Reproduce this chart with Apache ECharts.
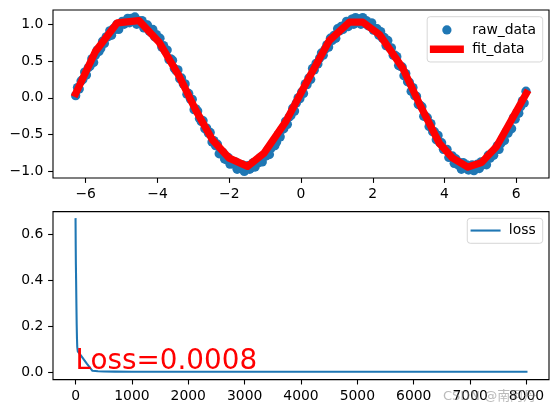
<!DOCTYPE html>
<html><head><meta charset="utf-8">
<script src="https://cdn.jsdelivr.net/npm/echarts@6/dist/echarts.min.js"></script>
<style>html,body{margin:0;padding:0;background:#fff}#c{width:559px;height:413px}</style>
</head><body><div id="c"></div>
<script>
// ---- data ----
const rawX = [
-6.28,-6.23,-6.18,-6.13,-6.08,-6.03,
-5.98,-5.93,-5.88,-5.83,-5.78,-5.73,-5.68,-5.63,-5.58,-5.53,-5.48,-5.43,-5.38,-5.33,-5.28,-5.23,-5.18,-5.13,-5.08,-5.03,
-4.98,-4.93,-4.88,-4.83,-4.78,-4.73,-4.68,-4.63,-4.58,-4.53,-4.48,-4.43,-4.38,-4.33,-4.28,-4.23,-4.18,-4.13,-4.08,-4.03,
-3.98,-3.93,-3.88,-3.83,-3.78,-3.73,-3.68,-3.63,-3.58,-3.53,-3.48,-3.43,-3.38,-3.33,-3.28,-3.23,-3.18,-3.13,-3.08,-3.03,
-2.98,-2.93,-2.88,-2.83,-2.78,-2.73,-2.68,-2.63,-2.58,-2.53,-2.48,-2.43,-2.38,-2.33,-2.28,-2.23,-2.18,-2.13,-2.08,-2.03,
-1.98,-1.93,-1.88,-1.83,-1.78,-1.73,-1.68,-1.63,-1.58,-1.53,-1.48,-1.43,-1.38,-1.33,-1.28,-1.23,-1.18,-1.13,-1.08,-1.03,
-0.98,-0.93,-0.88,-0.83,-0.78,-0.73,-0.68,-0.63,-0.58,-0.53,-0.48,-0.43,-0.38,-0.33,-0.28,-0.23,-0.18,-0.13,-0.08,-0.03,
0.02,0.07,0.12,0.17,0.22,0.27,0.32,0.37,0.42,0.47,0.52,0.57,0.62,0.67,0.72,0.77,0.82,0.87,0.92,0.97,
1.02,1.07,1.12,1.17,1.22,1.27,1.32,1.37,1.42,1.47,1.52,1.57,1.62,1.67,1.72,1.77,1.82,1.87,1.92,1.97,
2.02,2.07,2.12,2.17,2.22,2.27,2.32,2.37,2.42,2.47,2.52,2.57,2.62,2.67,2.72,2.77,2.82,2.87,2.92,2.97,
3.02,3.07,3.12,3.17,3.22,3.27,3.32,3.37,3.42,3.47,3.52,3.57,3.62,3.67,3.72,3.77,3.82,3.87,3.92,3.97,
4.02,4.07,4.12,4.17,4.22,4.27,4.32,4.37,4.42,4.47,4.52,4.57,4.62,4.67,4.72,4.77,4.82,4.87,4.92,4.97,
5.02,5.07,5.12,5.17,5.22,5.27,5.32,5.37,5.42,5.47,5.52,5.57,5.62,5.67,5.72,5.77,5.82,5.87,5.92,5.97,
6.02,6.07,6.12,6.17,6.22,6.27
];
const rawY = [
0.03,0.14,0.12,0.23,0.25,0.35,0.31,0.41,0.43,0.53,
0.48,0.58,0.65,0.63,0.67,0.77,0.74,0.83,0.83,0.91,
0.85,0.94,0.93,1.00,0.93,1.01,1.04,1.00,1.02,1.08,
1.02,1.08,1.05,1.10,1.00,1.05,1.01,1.05,0.95,0.99,
0.99,0.91,0.89,0.93,0.83,0.86,0.80,0.81,0.69,0.71,
0.64,0.65,0.52,0.53,0.51,0.40,0.37,0.38,0.26,0.27,
0.19,0.19,0.05,0.06,-0.02,-0.02,-0.16,-0.15,-0.18,-0.28,
-0.32,-0.31,-0.42,-0.41,-0.48,-0.47,-0.60,-0.58,-0.65,-0.63,
-0.76,-0.73,-0.74,-0.83,-0.84,-0.81,-0.90,-0.86,-0.90,-0.87,
-0.97,-0.92,-0.95,-0.91,-1.00,-0.94,-0.92,-0.97,-0.95,-0.88,
-0.94,-0.86,-0.88,-0.81,-0.87,-0.79,-0.79,-0.71,-0.77,-0.68,
-0.63,-0.65,-0.60,-0.50,-0.53,-0.43,-0.42,-0.32,-0.36,-0.26,
-0.24,-0.14,-0.18,-0.07,0.00,-0.01,
0.08,0.06,0.19,0.18,0.27,0.25,0.40,0.38,0.47,0.46,
0.54,0.61,0.58,0.66,0.72,0.69,0.81,0.78,0.85,0.81,
0.94,0.91,0.97,0.93,0.99,1.04,0.97,1.03,1.07,1.00,
1.09,1.03,1.07,1.00,1.09,1.02,1.05,0.98,1.01,1.02,
0.92,0.94,0.94,0.85,0.90,0.81,0.82,0.71,0.78,0.68,
0.68,0.58,0.58,0.56,0.44,0.43,0.42,0.30,0.33,0.22,
0.21,0.09,0.14,0.03,0.02,-0.09,-0.10,-0.12,-0.25,-0.25,
-0.27,-0.39,-0.35,-0.46,-0.46,-0.57,-0.51,-0.61,-0.61,-0.70,
-0.70,-0.70,-0.81,-0.80,-0.79,-0.89,-0.83,-0.91,-0.88,-0.97,
-0.88,-0.95,-0.91,-0.98,-0.94,-0.91,-0.99,-0.94,-0.90,-0.96,
-0.87,-0.91,-0.86,-0.91,-0.78,-0.82,-0.75,-0.78,-0.71,-0.65,
-0.70,-0.62,-0.55,-0.58,-0.46,-0.48,-0.40,-0.42,-0.27,-0.29,
-0.20,-0.21,-0.12,-0.04,-0.07,0.09
];
const fitX = [-6.28,-5.73,-5.12,-4.52,-3.96,-3.40,-2.93,-2.47,-2.00,-1.49,-1.03,-0.42,0.23,0.79,1.35,1.72,2.19,2.84,3.35,3.86,4.23,4.65,5.03,5.45,6.28];
const fitY = [0.06,0.63,1.02,1.05,0.76,0.30,-0.17,-0.57,-0.82,-0.93,-0.75,-0.32,0.28,0.78,1.03,1.03,0.86,0.40,-0.13,-0.62,-0.82,-0.94,-0.88,-0.66,0.06];
const lossStep = [0,3,6,10,15,20,25,30,40,100,200,300,400,500,700,1000,1500,2000,3000,4000,5000,6000,7000,8000];
const lossVal = [0.667,0.55,0.47,0.40,0.30,0.21,0.15,0.11,0.09,0.07,0.036,0.005,0.003,0.002,0.0015,0.0012,0.001,0.001,0.0009,0.0009,0.0008,0.0008,0.0008,0.0008];
const topXTicks = [-6,-4,-2,0,2,4,6];
const topYTicks = [-1,-0.5,0,0.5,1];
const lossXTicks = [0,1000,2000,3000,4000,5000,6000,7000,8000];
const lossYTicks = [0,0.2,0.4,0.6];
const seriesNames = ['raw_data','fit_data','loss'];
const lossText = 'Loss=0.0008';
const watermarkText = 'CSDN @南阿丹';

// ---- chart ----
const FONT = 'DejaVu Sans, Noto Sans CJK SC, sans-serif';
const FS = 13.9;
const minus = s => s.replace('-', '\u2212');
const fmtInt = v => minus(String(Math.round(v)));
const fmt1 = v => minus((Math.abs(v) < 1e-9 ? 0 : v).toFixed(1));

function axisCommon(ticks, fmt) {
  return {
    axisLine: {show: false, onZero: false},
    splitLine: {show: false},
    axisTick: {show: true, customValues: ticks, length: 4.9, lineStyle: {color: '#000', width: 1.1}},
    axisLabel: {customValues: ticks, formatter: fmt, color: '#000', fontSize: FS, fontFamily: FONT, margin: 9.7}
  };
}

const chart = echarts.init(document.getElementById('c'), null, {renderer: 'canvas'});
const legendCommon = {
  orient: 'vertical', align: 'left', selectedMode: false,
  backgroundColor: 'rgba(255,255,255,0.8)', borderColor: 'rgba(204,204,204,0.8)', borderWidth: 1, borderRadius: 3,
  itemWidth: 34, itemGap: 5.4,
  textStyle: {fontSize: FS, color: '#000', fontFamily: FONT, padding: [0, 0, 0, 3.3]}
};
chart.setOption({
  animation: false,
  textStyle: {fontFamily: FONT},
  grid: [
    {left: 53, top: 10, width: 496, height: 168, show: true, borderColor: '#000', borderWidth: 1.1, backgroundColor: '#fff', outerBoundsMode: 'none', containLabel: false},
    {left: 53, top: 211.6, width: 496, height: 168, show: true, borderColor: '#000', borderWidth: 1.1, backgroundColor: '#fff', outerBoundsMode: 'none', containLabel: false}
  ],
  xAxis: [
    Object.assign({type: 'value', gridIndex: 0, min: -6.912, max: 6.912}, axisCommon(topXTicks, fmtInt)),
    Object.assign({type: 'value', gridIndex: 1, min: -400, max: 8400}, axisCommon(lossXTicks, fmtInt))
  ],
  yAxis: [
    Object.assign({type: 'value', gridIndex: 0, min: -1.089, max: 1.194}, axisCommon(topYTicks, fmt1)),
    Object.assign({type: 'value', gridIndex: 1, min: -0.0333, max: 0.7}, axisCommon(lossYTicks, fmt1))
  ],
  legend: [
    Object.assign({}, legendCommon, {
      data: [{name: seriesNames[0], icon: 'circle'}, {name: seriesNames[1], icon: 'path://M0,0L34,0L34,7.3L0,7.3Z'}],
      right: 16.3, top: 16.7, itemHeight: 9.3, padding: [6.3, 6.7, 5.8, 2.7]}),
    Object.assign({}, legendCommon, {
      data: [{name: seriesNames[2], icon: 'path://M0,0L30,0L30,2.1L0,2.1Z'}],
      right: 16.3, top: 218.3, itemWidth: 30, itemHeight: 9, padding: [5.3, 7, 5.8, 3.3]})
  ],
  series: [
    {name: seriesNames[0], type: 'scatter', xAxisIndex: 0, yAxisIndex: 0, symbol: 'circle', symbolSize: 9.3,
     itemStyle: {color: '#1f77b4', opacity: 1}, data: rawX.map((x, i) => [x, rawY[i]]), z: 2},
    {name: seriesNames[1], type: 'line', xAxisIndex: 0, yAxisIndex: 0, symbol: 'none', showSymbol: false,
     lineStyle: {color: '#ff0000', width: 7.3, cap: 'square', join: 'round'}, itemStyle: {color: '#ff0000'},
     data: fitX.map((x, i) => [x, fitY[i]]), z: 3},
    {name: seriesNames[2], type: 'line', xAxisIndex: 1, yAxisIndex: 1, symbol: 'none', showSymbol: false,
     lineStyle: {color: '#1f77b4', width: 2.08, cap: 'square', join: 'round'}, itemStyle: {color: '#1f77b4'},
     data: lossStep.map((x, i) => [x, lossVal[i]]), z: 2}
  ]
});

const p = chart.convertToPixel({xAxisIndex: 1, yAxisIndex: 1}, [0, 0]);
const LFS = 27.8;
chart.setOption({
  graphic: [
    {type: 'text', x: p[0], y: p[1] - 0.36 * LFS, z: 10,
     style: {text: lossText, fill: '#ff0000', font: LFS + 'px DejaVu Sans', align: 'left', verticalAlign: 'middle'}},
    {type: 'text', x: 443, y: 397, z: 20,
     style: {text: watermarkText, fill: 'rgba(130,130,130,0.55)', font: '13px DejaVu Sans, Noto Sans CJK SC', align: 'left', verticalAlign: 'middle'}}
  ]
});
</script>
</body></html>
